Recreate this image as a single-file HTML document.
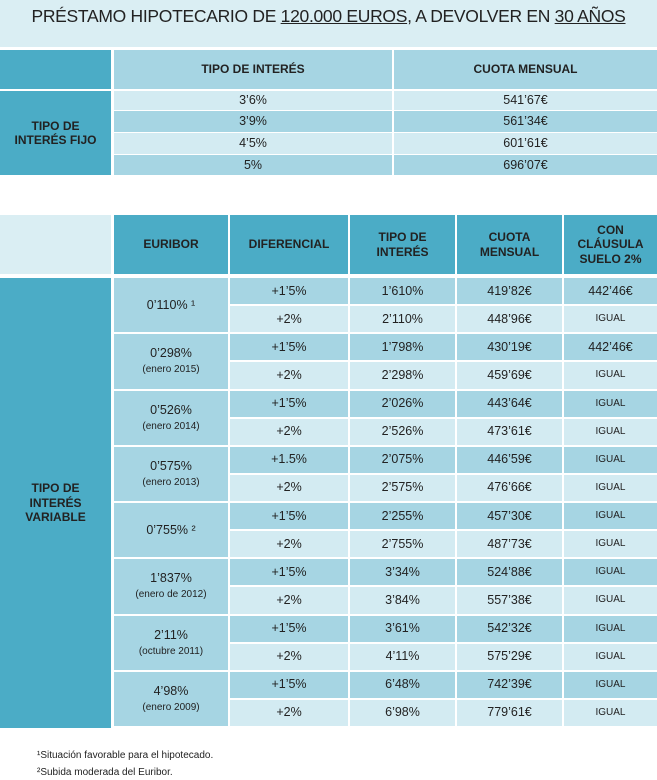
<!DOCTYPE html>
<html><head><meta charset="utf-8">
<style>
body{margin:0;width:657px;height:780px;position:relative;background:#fff;font-family:"Liberation Sans",sans-serif;color:#222;overflow:hidden}
.c{position:absolute;display:flex;align-items:center;justify-content:center;text-align:center;box-sizing:border-box;font-size:12.5px;line-height:1.2}
.d{background:#4bacc6}.m{background:#a6d5e3}.l{background:#d3ebf2}.p{background:#daeef3}
.b{font-weight:bold;font-size:12px}
.s{font-size:10px}
</style></head><body>
<div class="c p" style="left:0;top:0;width:657px;height:47px;align-items:flex-start;padding-top:6px;font-size:17.5px;letter-spacing:-0.3px"><div>PRÉSTAMO HIPOTECARIO DE <u>120.000 EUROS</u>, A DEVOLVER EN <u>30 AÑOS</u></div></div>
<div id="t1"></div>
<div id="t2"></div>
<div style="position:absolute;left:37px;top:750px;font-size:10px">¹Situación favorable para el hipotecado.</div>
<div style="position:absolute;left:37px;top:767px;font-size:10px">²Subida moderada del Euribor.</div>
<script>
const fixedRates=["3’6%","3’9%","4’5%","5%"];
const fixedQuota=["541’67€","561’34€","601’61€","696’07€"];
const euribor=["0’110% ¹","0’298%","0’526%","0’575%","0’755% ²","1’837%","2’11%","4’98%"];
const euriborDate=["","(enero 2015)","(enero 2014)","(enero 2013)","","(enero de 2012)","(octubre 2011)","(enero 2009)"];
const diff=["+1’5%","+2%","+1’5%","+2%","+1’5%","+2%","+1.5%","+2%","+1’5%","+2%","+1’5%","+2%","+1’5%","+2%","+1’5%","+2%"];
const rate=["1’610%","2’110%","1’798%","2’298%","2’026%","2’526%","2’075%","2’575%","2’255%","2’755%","3’34%","3’84%","3’61%","4’11%","6’48%","6’98%"];
const quota=["419’82€","448’96€","430’19€","459’69€","443’64€","473’61€","446’59€","476’66€","457’30€","487’73€","524’88€","557’38€","542’32€","575’29€","742’39€","779’61€"];
const floorQ=["442’46€","IGUAL","442’46€","IGUAL","IGUAL","IGUAL","IGUAL","IGUAL","IGUAL","IGUAL","IGUAL","IGUAL","IGUAL","IGUAL","IGUAL","IGUAL"];
function cell(x,y,w,h,cls,html,name){
 const e=document.createElement('div');
 e.className='c '+cls;
 e.style.left=x+'px';e.style.top=y+'px';e.style.width=w+'px';e.style.height=h+'px';
 e.innerHTML='<div>'+html+'</div>';
 
 
 document.body.appendChild(e);
}
cell(0,50,111,39,'d','', 'fixed-corner');
cell(114,50,278,39,'m b','TIPO DE INTERÉS','fixed-header-rate');
cell(394,50,263,39,'m b','CUOTA MENSUAL','fixed-header-quota');
cell(0,91,111,84,'d b','TIPO DE<br>INTERÉS FIJO','fixed-label');
const r1=[91,111,133,155],h1=[19,21,21,20];
fixedRates.forEach((v,i)=>{
 const cls=i%2?'m':'l';
 cell(114,r1[i],278,h1[i],cls,v,'fixed-rate-'+i);
 cell(394,r1[i],263,h1[i],cls,fixedQuota[i],'fixed-quota-'+i);
});
const cols=[114,230,350,457,564],widths=[114,118,105,105,93];
cell(0,215,111,59,'p','','variable-corner');
const hdr=['EURIBOR','DIFERENCIAL','TIPO DE<br>INTERÉS','CUOTA<br>MENSUAL','CON<br>CLÁUSULA<br>SUELO 2%'];
hdr.forEach((t,i)=>cell(cols[i],215,widths[i],59,'d b',t,'variable-header-'+i));
const top0=278,rh=28.125;
cell(0,top0,111,rh*16,'d b','TIPO DE<br>INTERÉS<br>VARIABLE','variable-label');
euribor.forEach((v,i)=>{
 const y=top0+i*2*rh;
 cell(cols[0],y,widths[0],rh*2-2,'m',v+(euriborDate[i]?'<br><span class="s">'+euriborDate[i]+'</span>':''),'euribor-'+i);
});
diff.forEach((v,i)=>{
 const y=top0+i*rh,cls=i%2?'l':'m';
 cell(cols[1],y,widths[1],rh-2,cls,v,'diff-'+i);
 cell(cols[2],y,widths[2],rh-2,cls,rate[i],'rate-'+i);
 cell(cols[3],y,widths[3],rh-2,cls,quota[i],'quota-'+i);
 cell(cols[4],y,widths[4],rh-2,cls+(floorQ[i]==='IGUAL'?' s':''),floorQ[i],'floor-quota-'+i);
});
</script>
</body></html>
